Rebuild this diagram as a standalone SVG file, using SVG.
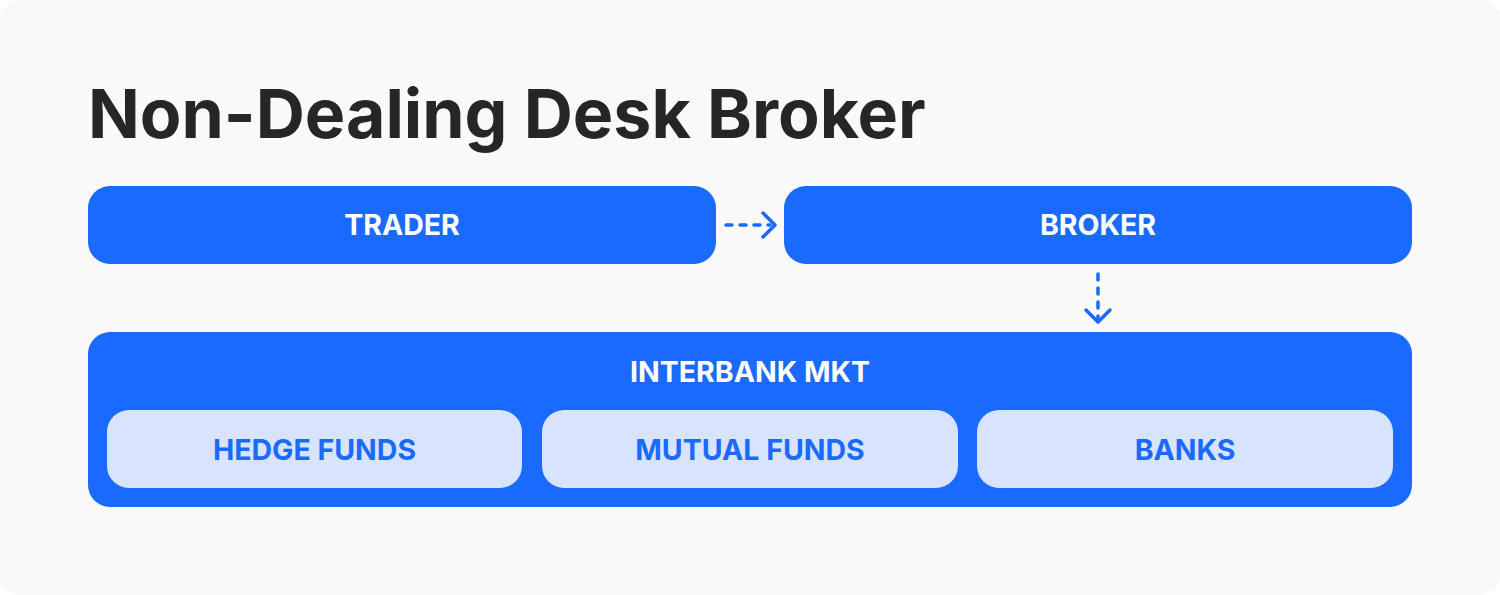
<svg xmlns="http://www.w3.org/2000/svg" width="1500" height="595" viewBox="0 0 1500 595">
<style>
.box{fill:#1a6aff}
.sub{fill:#d8e4fd}
.lbl{font-family:Inter,"Liberation Sans",sans-serif;font-weight:700;font-size:28.5px;fill:#ffffff;text-anchor:middle}
.slbl{font-family:Inter,"Liberation Sans",sans-serif;font-weight:700;font-size:28.5px;fill:#1a6aff;text-anchor:middle}
.dash{stroke:#1a6aff;stroke-width:3.5;stroke-linecap:round;fill:none;stroke-dasharray:6 8}
.head{stroke:#1a6aff;stroke-width:3.5;stroke-linecap:round;stroke-linejoin:round;fill:none}
</style>
<rect x="0" y="0" width="1500" height="595" rx="20" fill="#f9f9f9"/>
<text x="88" y="138" font-family="Inter,'Liberation Sans',sans-serif" font-weight="700" font-size="68" fill="#262626">Non-Dealing Desk Broker</text>
<g id="trader">
<rect class="box" x="88" y="186" width="628" height="78" rx="22"/>
<text class="lbl" x="402" y="235">TRADER</text>
</g>
<g id="broker">
<rect class="box" x="784" y="186" width="628" height="78" rx="22"/>
<text class="lbl" x="1098" y="235">BROKER</text>
</g>
<g id="interbank">
<rect class="box" x="88" y="332" width="1324" height="175" rx="22"/>
<text class="lbl" x="750" y="382">INTERBANK MKT</text>
</g>
<g id="hedge">
<rect class="sub" x="107" y="410" width="415" height="78" rx="22"/>
<text class="slbl" x="314.5" y="460">HEDGE FUNDS</text>
</g>
<g id="mutual">
<rect class="sub" x="542" y="410" width="416" height="78" rx="22"/>
<text class="slbl" x="750" y="460">MUTUAL FUNDS</text>
</g>
<g id="banks">
<rect class="sub" x="977" y="410" width="416" height="78" rx="22"/>
<text class="slbl" x="1185" y="460">BANKS</text>
</g>
<g id="connectors">
<path class="dash" d="M726 225 H770"/>
<path class="head" d="M763 213 L775 225 L763 237"/>
<path class="dash" d="M1098 274 V318"/>
<path class="head" d="M1086 310 L1098 322 L1110 310"/>
</g>
</svg>
